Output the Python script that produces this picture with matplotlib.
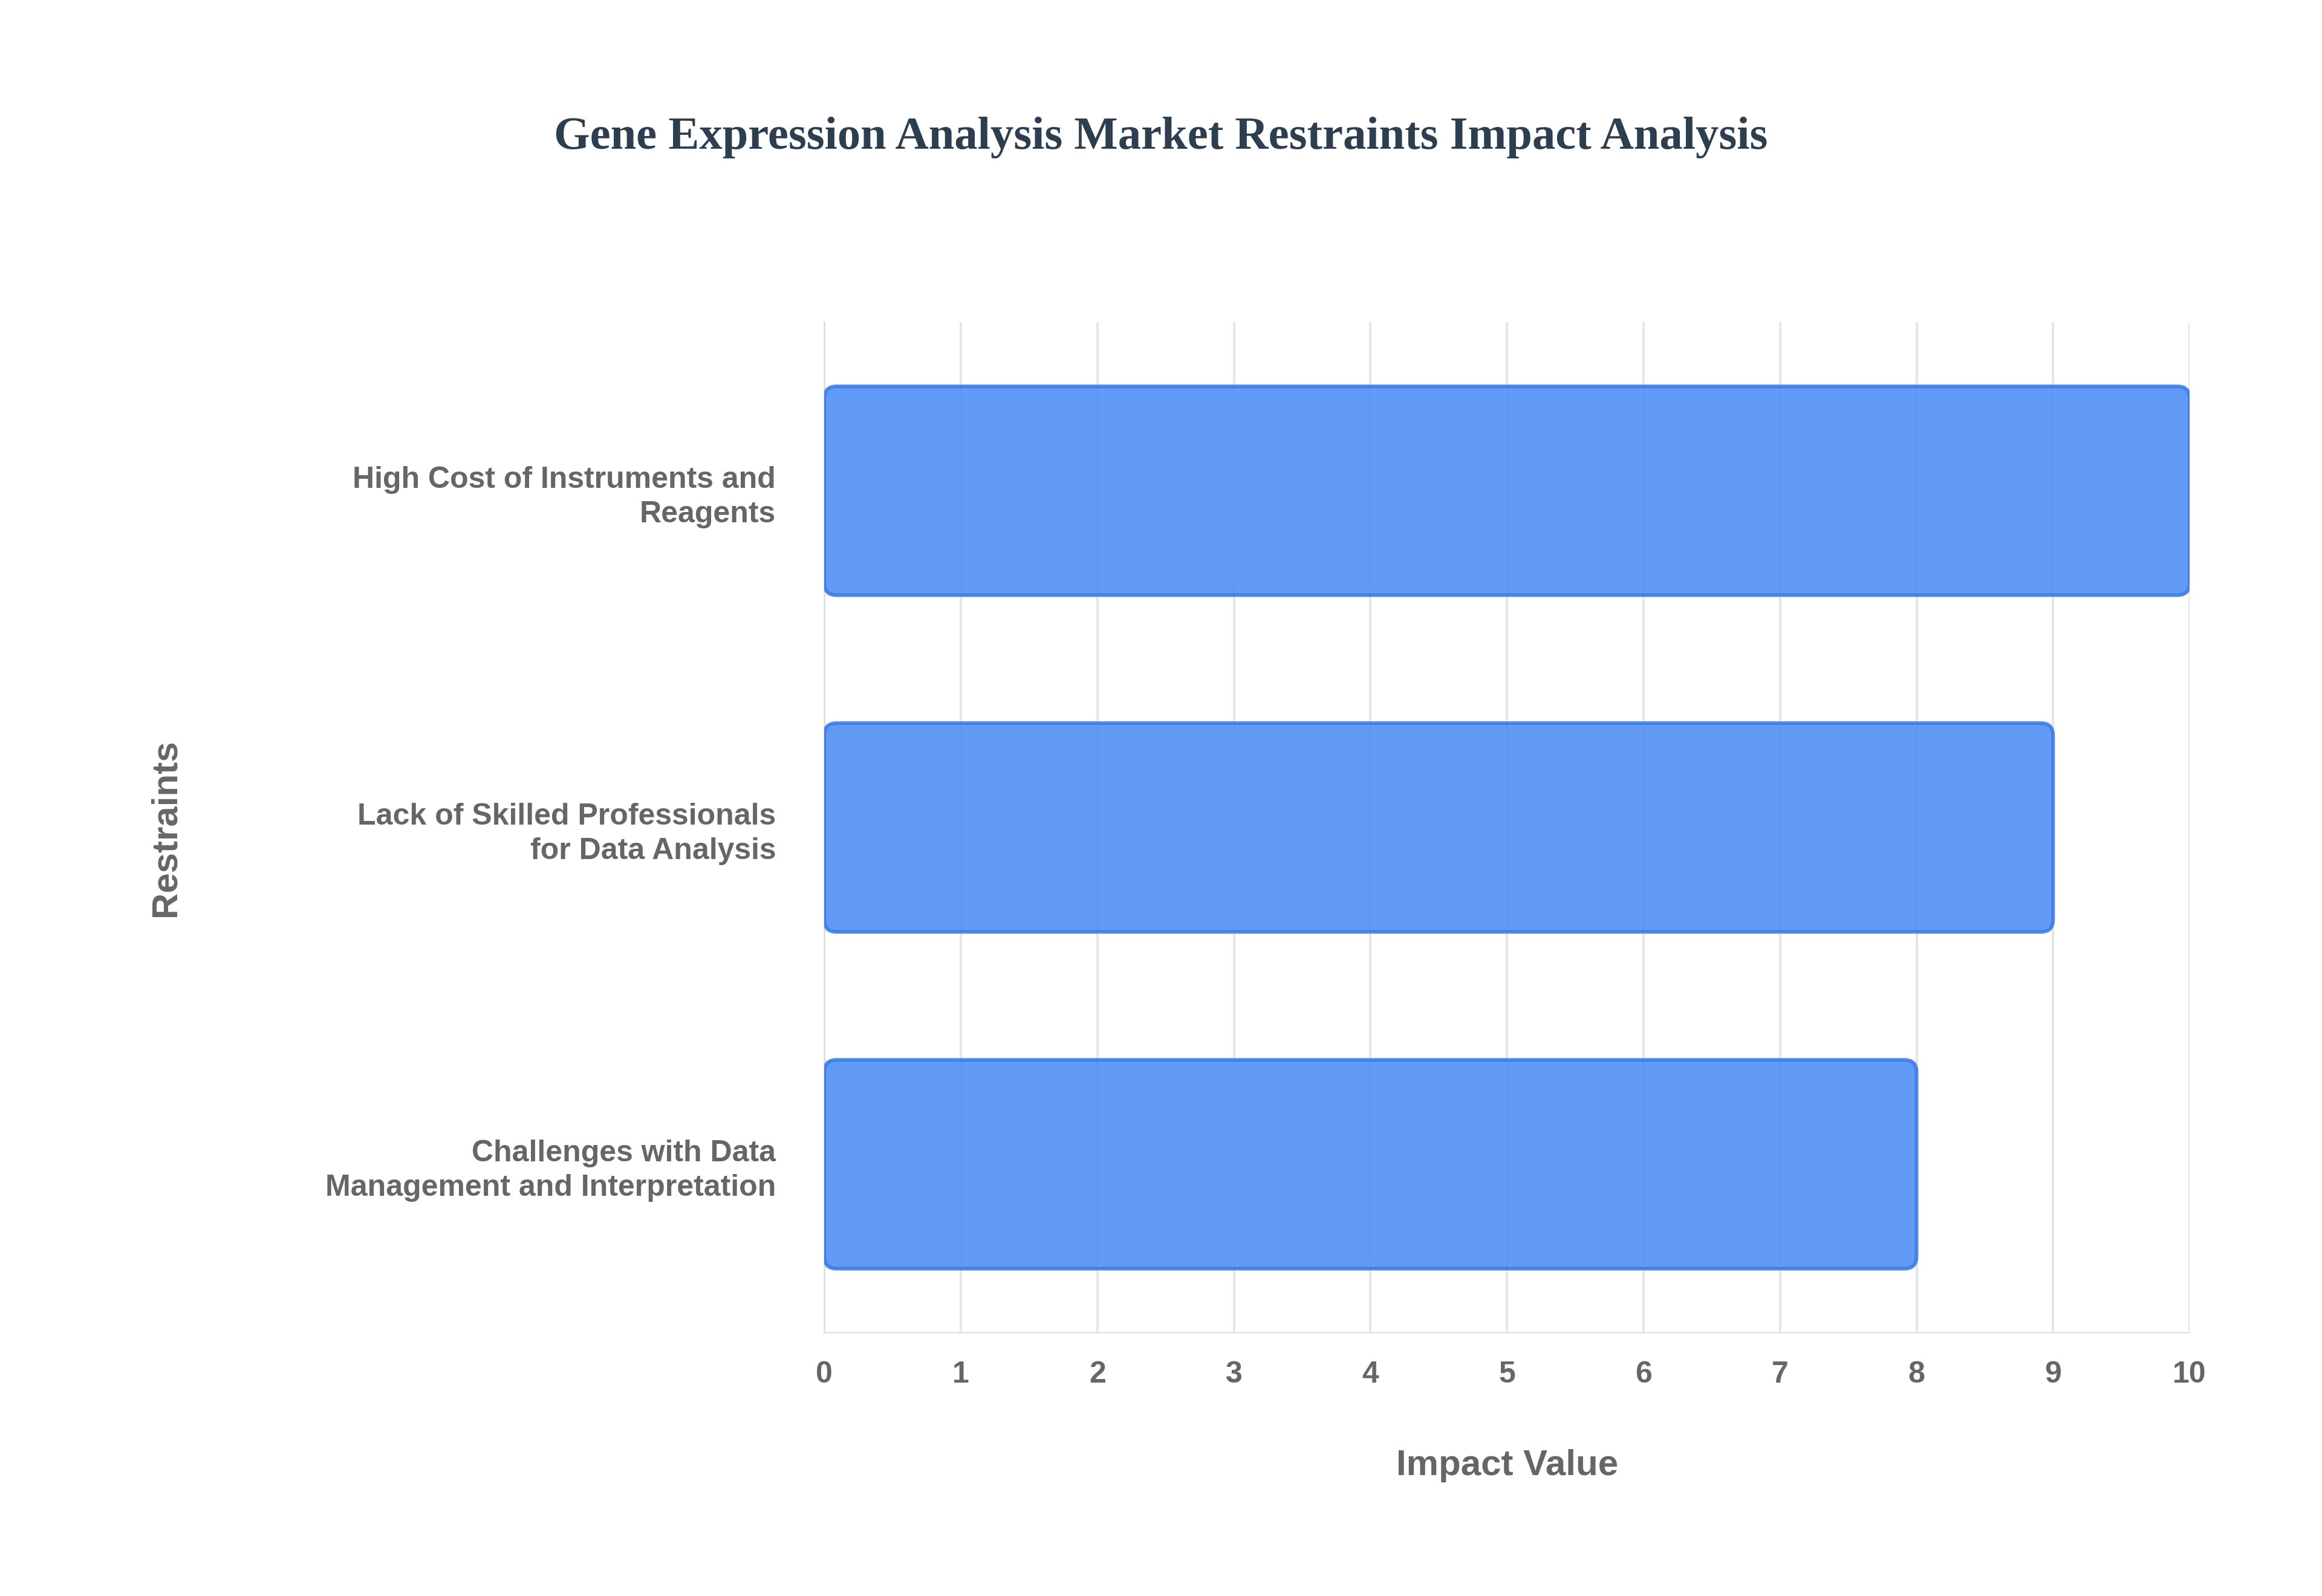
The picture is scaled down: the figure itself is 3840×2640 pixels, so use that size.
import matplotlib
matplotlib.use("Agg")
import matplotlib.pyplot as plt
from matplotlib.patches import FancyBboxPatch

categories = [
    "High Cost of Instruments and\nReagents",
    "Lack of Skilled Professionals\nfor Data Analysis",
    "Challenges with Data\nManagement and Interpretation",
]
values = [10, 9, 8]
x_ticks = list(range(0, 11))

fig = plt.figure(figsize=(16, 11), dpi=240)
ax = fig.add_axes([0.355, 0.165, 0.588, 0.633])

bar_h = 0.62
for i, v in enumerate(values):
    y = i
    patch = FancyBboxPatch(
        (0, y - bar_h / 2), v, bar_h,
        boxstyle="round,pad=0,rounding_size=0.09",
        mutation_aspect=0.4,
        facecolor="#4b8cf5", alpha=0.87,
        edgecolor="#3a7ae8", linewidth=1.8, zorder=3,
    )
    ax.add_patch(patch)

ax.set_xlim(0, 10)
ax.set_ylim(2.5, -0.5)
ax.set_xticks(x_ticks)
ax.set_yticks(range(len(categories)))
ax.set_yticklabels(categories, fontsize=15, fontweight="bold", color="#666666",
                   family="Liberation Sans", linespacing=1.3)
for lbl in ax.get_xticklabels():
    lbl.set_fontsize(15)
    lbl.set_fontweight("bold")
    lbl.set_color("#666666")
    lbl.set_family("Liberation Sans")
ax.tick_params(axis="both", length=0)
ax.tick_params(axis="x", pad=14)
ax.tick_params(axis="y", pad=24)
ax.grid(axis="x", color="#e6e6e6", linewidth=1.2, zorder=0)
ax.set_axisbelow(True)
for s in ["top", "right"]:
    ax.spines[s].set_visible(False)
ax.spines["left"].set_color("#dddddd")
ax.spines["bottom"].set_color("#e6e6e6")

ax.set_xlabel("Impact Value", fontsize=18, fontweight="bold", color="#666666",
              family="Liberation Sans", labelpad=30)
ax.set_ylabel("Restraints", fontsize=18, fontweight="bold", color="#666666",
              family="Liberation Sans", labelpad=40)
ax.yaxis.set_label_coords(-0.47, 0.5)

fig.text(0.5, 0.914, "Gene Expression Analysis Market Restraints Impact Analysis",
         ha="center", va="center", fontsize=23, fontweight="bold",
         color="#2c3e50", family="Liberation Serif")

fig.savefig("out.png", dpi=240)
